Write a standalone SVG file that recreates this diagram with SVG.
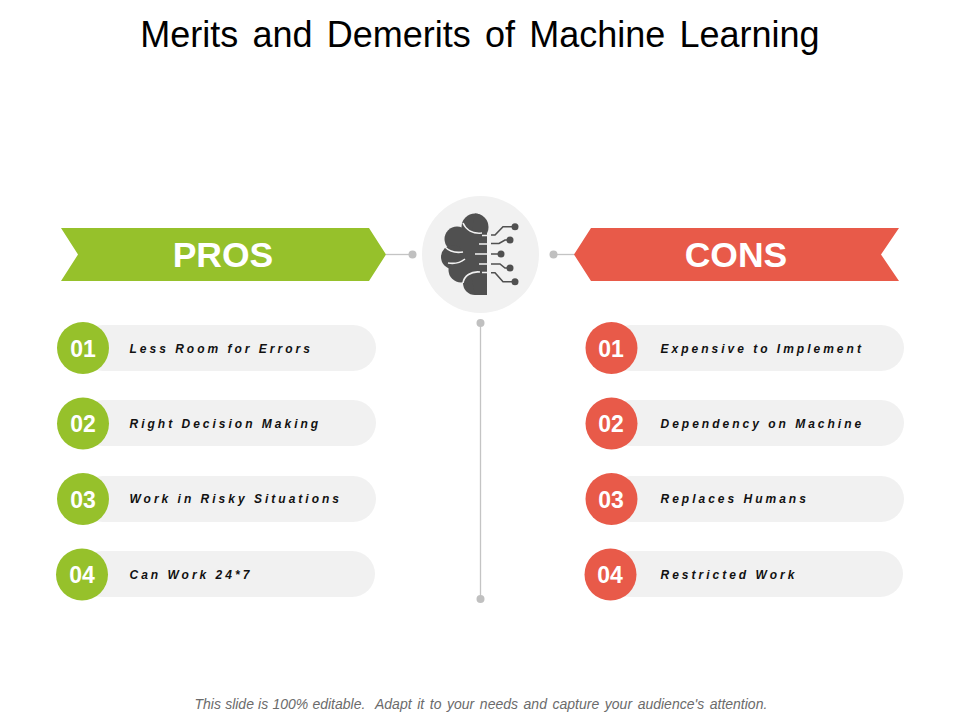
<svg xmlns="http://www.w3.org/2000/svg" width="960" height="720" viewBox="0 0 960 720">
<style>
.t{font-family:"Liberation Sans",Arial,sans-serif}
.title{font-size:36px;fill:#000;text-anchor:middle;word-spacing:4.200px}
.head{font-size:35.500px;font-weight:700;fill:#fff;text-anchor:middle}
.num{font-size:23px;font-weight:700;fill:#fff;text-anchor:middle}
.lab{font-size:12px;font-weight:700;font-style:italic;fill:#111;letter-spacing:3px}
.foot{font-size:14px;font-style:italic;fill:#6b6b6b}
.pill{fill:#f1f1f1}
.g{fill:#96c12b}
.r{fill:#e85a49}
.c{stroke:#c4c4c4;stroke-width:1.300;fill:none}
.d{fill:#c0c0c0}
.b{fill:#505050}
.w{fill:none;stroke:#f1f1f1;stroke-width:1.600}
.k{fill:none;stroke:#505050;stroke-width:1.600}
</style>
<rect width="960" height="720" fill="#fff"/>
<text class="t title" x="480" y="47">Merits and Demerits of Machine Learning</text>
<g id="connectors">
<path class="c" d="M386 254.500H412"/><circle class="d" cx="412.500" cy="254.500" r="4"/>
<path class="c" d="M553 254.500H575"/><circle class="d" cx="553.500" cy="254.500" r="4"/>
<path class="c" d="M480.500 323V599"/><circle class="d" cx="480.500" cy="323" r="4"/><circle class="d" cx="480.500" cy="599" r="4"/>
</g>
<g id="pros-banner"><path class="g" d="M61 228H369L386 254.500L369 281H61L78 254.500Z"/><text class="t head" x="223" y="267">PROS</text></g>
<g id="cons-banner"><path class="r" d="M899 228H591L574 254.500L591 281H899L881 254.500Z"/><text class="t head" x="736" y="267">CONS</text></g>
<g id="brain">
<circle cx="480.500" cy="254.500" r="58.500" fill="#f1f1f1"/>
<circle class="b" cx="475" cy="227" r="13.500"/><circle class="b" cx="457" cy="239" r="12.500"/><circle class="b" cx="453" cy="257" r="12"/><circle class="b" cx="461" cy="270" r="12.500"/><circle class="b" cx="475" cy="283" r="12"/>
<path class="b" d="M462 228H487V295H476L462 280Z"/>
<path class="b" d="M475 213.500A12 13.500 0 0 1 487 227V240H470Z"/>
<path class="b" d="M475 295A12 12 0 0 0 487 283V270H470Z"/>
<path class="w" d="M463 223C466 230 473 234 482 233M445 247C450 252 457 253 463 252M448 263C454 264 460 263 465 259M463 283C464 276 471 271 480 272"/>
<path class="w" d="M482 235.500H487M479 244H487M475 254H487M479 264H487M482 272.500H487"/>
<path class="k" d="M491 235H495L503 226.700H515M491 243.500H499L505 240H510M491 254H501M491 264H500L505 268H510M491 272.700H495L503 281.700H515"/>
<circle class="b" cx="515" cy="226.700" r="3.500"/><circle class="b" cx="510" cy="240" r="3.500"/><circle class="b" cx="501" cy="254" r="3.500"/><circle class="b" cx="510" cy="268" r="3.500"/><circle class="b" cx="515" cy="281.700" r="3.500"/>
</g>
<g id="pro-01"><rect class="pill" x="80" y="325" width="296" height="46" rx="23"/><circle class="g" cx="83" cy="348" r="26"/><text class="t num" x="83" y="356.500">01</text><text class="t lab" x="129.500" y="353">Less Room for Errors</text></g>
<g id="pro-02"><rect class="pill" x="80" y="400" width="296" height="46" rx="23"/><circle class="g" cx="83" cy="423.500" r="26"/><text class="t num" x="83" y="432">02</text><text class="t lab" x="129.500" y="428">Right Decision Making</text></g>
<g id="pro-03"><rect class="pill" x="80" y="476" width="296" height="46" rx="23"/><circle class="g" cx="83" cy="499" r="26"/><text class="t num" x="83" y="507.500">03</text><text class="t lab" x="129.500" y="503">Work in Risky Situations</text></g>
<g id="pro-04"><rect class="pill" x="79" y="551" width="296" height="46" rx="23"/><circle class="g" cx="82" cy="574.500" r="26"/><text class="t num" x="82" y="583">04</text><text class="t lab" x="129.500" y="579">Can Work 24*7</text></g>
<g id="con-01"><rect class="pill" x="608" y="325" width="296" height="46" rx="23"/><circle class="r" cx="611.500" cy="348" r="26"/><text class="t num" x="611" y="356.500">01</text><text class="t lab" x="660.500" y="353">Expensive to Implement</text></g>
<g id="con-02"><rect class="pill" x="608" y="400" width="296" height="46" rx="23"/><circle class="r" cx="611.500" cy="423.500" r="26"/><text class="t num" x="611" y="432">02</text><text class="t lab" x="660.500" y="428">Dependency on Machine</text></g>
<g id="con-03"><rect class="pill" x="608" y="476" width="296" height="46" rx="23"/><circle class="r" cx="611.500" cy="499" r="26"/><text class="t num" x="611" y="507.500">03</text><text class="t lab" x="660.500" y="503">Replaces Humans</text></g>
<g id="con-04"><rect class="pill" x="607" y="551" width="296" height="46" rx="23"/><circle class="r" cx="610.500" cy="574.500" r="26"/><text class="t num" x="610" y="583">04</text><text class="t lab" x="660.500" y="579">Restricted Work</text></g>
<text class="t foot" x="194.500" y="709" word-spacing="0.300">This slide is 100% editable. <tspan x="375" word-spacing="1.700">Adapt it to your needs and capture your audience's attention.</tspan></text>
</svg>
